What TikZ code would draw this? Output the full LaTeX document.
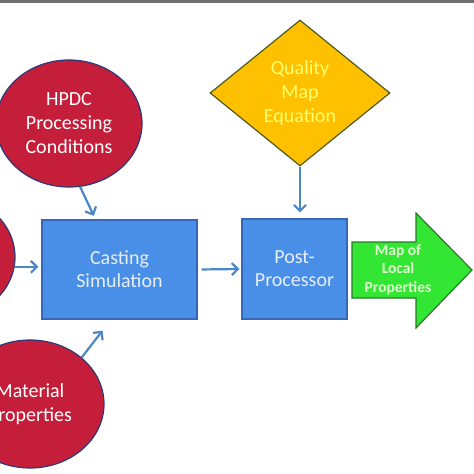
\documentclass[tikz,border=0pt]{standalone}
\usepackage{fontspec}
\setmainfont{Carlito}
\usetikzlibrary{shapes.geometric,arrows.meta}

\definecolor{rossoovale}{HTML}{C41E3A}
\definecolor{bordoovale}{HTML}{2B3A78}
\definecolor{blublocco}{HTML}{4A8FE7}
\definecolor{bordoblu}{HTML}{3566B8}
\definecolor{testoblu}{HTML}{E8EEF8}
\definecolor{giallorombo}{HTML}{FFC000}
\definecolor{bordorombo}{HTML}{4D5B1E}
\definecolor{testorombo}{HTML}{FFFF70}
\definecolor{verde}{HTML}{33E633}
\definecolor{bordoverde}{HTML}{2A7A2A}
\definecolor{testoverde}{HTML}{E0FFD0}
\definecolor{blufreccia}{HTML}{4A87C9}
\definecolor{grigio}{HTML}{707070}

\begin{document}
\begin{tikzpicture}[x=1pt, y=-1pt,
    ovale/.style={ellipse, draw=bordoovale, line width=1.2pt, fill=rossoovale,
      text=white, inner sep=0pt, align=center, font=\fontsize{20}{24}\selectfont},
    blocco/.style={rectangle, draw=bordoblu, line width=1.2pt, fill=blublocco,
      text=testoblu, inner sep=0pt, align=center, font=\fontsize{20}{23}\selectfont},
    freccia/.style={draw=blufreccia, line width=2.2pt,
      -{Straight Barb[length=6pt,width=12pt]}}]

  \useasboundingbox (0,0) rectangle (474,474);
  \clip (0,0) rectangle (474,474);
  \fill[grigio] (0,0) rectangle (474,3);

  % ingressi
  \node[ovale, minimum width=146pt, minimum height=127pt] (hpdc) at (69,123.5)
    {HPDC\\Processing\\Conditions};
  \node[ovale, minimum width=140pt, minimum height=124pt] (sinistra) at (-55,257) {};
  \node[ovale, minimum width=148pt, minimum height=128pt] (materiale) at (30,404)
    {Material\\Properties};

  % blocchi
  \node[blocco, minimum width=155pt, minimum height=99pt] (fusione) at (119.5,269.5)
    {Casting\\Simulation};
  \node[blocco, minimum width=105pt, minimum height=100pt] (post) at (294.5,269)
    {Post-\\Processor};
  \node[diamond, draw=bordorombo, line width=1.2pt, fill=giallorombo, text=testorombo,
    minimum width=180pt, minimum height=146pt, inner sep=0pt, align=center,
    font=\fontsize{20}{24}\selectfont] (rombo) at (300,93) {Quality\\Map\\Equation};

  % uscita
  \draw[draw=bordoverde, fill=verde, line width=1.2pt]
    (352,242) -- (416,242) -- (416,213) -- (472,270) -- (416,328) -- (416,298)
    -- (352,298) -- cycle;
  \node[text=testoverde, align=center, font=\bfseries\fontsize{15.5}{18.5}\selectfont]
    (mappa) at (398,269.5) {Map of\\Local\\Properties};

  % frecce
  \draw[freccia, shorten >=4pt] (hpdc.-80) -- ([xshift=-24pt]fusione.north);
  \draw[freccia, shorten >=3pt] (sinistra.-8) -- (sinistra.-8 -| fusione.west);
  \draw[freccia] (materiale.42) -- ([xshift=-17pt,yshift=-11pt]fusione.south);
  \draw[freccia, shorten <=4pt, shorten >=2pt] (fusione.east) -- (post.west);
  \draw[freccia, shorten >=6pt] (rombo.south) -- (rombo.south |- post.north);
\end{tikzpicture}
\end{document}
